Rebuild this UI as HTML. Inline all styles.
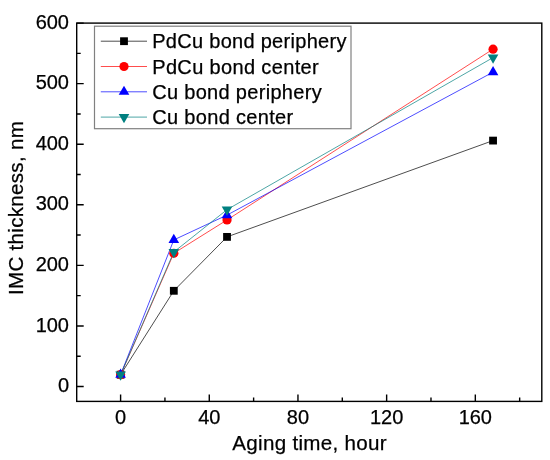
<!DOCTYPE html>
<html><head><meta charset="utf-8"><title>IMC thickness vs aging time</title>
<style>
html,body{margin:0;padding:0;background:#fff;}
svg{display:block;}
text{font-family:"Liberation Sans", Arial, sans-serif;font-size:20px;fill:#000;stroke:#000;stroke-width:0.25px;}
text.t{font-size:20.6px;}
</style></head>
<body>
<svg width="550" height="460" viewBox="0 0 550 460">
<rect x="0" y="0" width="550" height="460" fill="#fff"/>
<polyline points="120.60,374.69 173.81,290.80 227.02,236.89 493.06,140.59" fill="none" stroke="#000000" stroke-width="0.7"/>
<polyline points="120.60,374.69 173.81,253.25 227.02,219.93 493.06,49.13" fill="none" stroke="#ff0000" stroke-width="0.7"/>
<polyline points="120.60,374.69 173.81,239.92 227.02,215.09 493.06,72.14" fill="none" stroke="#0000ff" stroke-width="0.7"/>
<polyline points="120.60,374.69 173.81,252.03 227.02,209.64 493.06,57.60" fill="none" stroke="#008080" stroke-width="0.7"/>
<rect x="116.70" y="370.79" width="7.8" height="7.8" fill="#000000"/>
<rect x="169.91" y="286.90" width="7.8" height="7.8" fill="#000000"/>
<rect x="223.12" y="232.99" width="7.8" height="7.8" fill="#000000"/>
<rect x="489.16" y="136.69" width="7.8" height="7.8" fill="#000000"/>
<circle cx="120.60" cy="374.69" r="4.6" fill="#ff0000"/>
<circle cx="173.81" cy="253.25" r="4.6" fill="#ff0000"/>
<circle cx="227.02" cy="219.93" r="4.6" fill="#ff0000"/>
<circle cx="493.06" cy="49.13" r="4.6" fill="#ff0000"/>
<path d="M120.60 368.56 L125.90 377.76 L115.30 377.76Z" fill="#0000ff"/>
<path d="M173.81 233.79 L179.11 242.99 L168.51 242.99Z" fill="#0000ff"/>
<path d="M227.02 208.95 L232.32 218.15 L221.72 218.15Z" fill="#0000ff"/>
<path d="M493.06 66.01 L498.36 75.21 L487.76 75.21Z" fill="#0000ff"/>
<path d="M120.60 380.82 L125.90 371.62 L115.30 371.62Z" fill="#008080"/>
<path d="M173.81 258.17 L179.11 248.97 L168.51 248.97Z" fill="#008080"/>
<path d="M227.02 215.77 L232.32 206.57 L221.72 206.57Z" fill="#008080"/>
<path d="M493.06 63.74 L498.36 54.54 L487.76 54.54Z" fill="#008080"/>
<rect x="94.5" y="26.2" width="256.5" height="102.5" fill="#fff" stroke="#808080" stroke-width="1.2"/>
<line x1="100.8" y1="41.2" x2="147" y2="41.2" stroke="#000000" stroke-width="0.7"/>
<rect x="120.10" y="37.30" width="7.8" height="7.8" fill="#000000"/>
<text x="152.2" y="48.2" textLength="194.2" lengthAdjust="spacing">PdCu bond periphery</text>
<line x1="100.8" y1="66.5" x2="147" y2="66.5" stroke="#ff0000" stroke-width="0.7"/>
<circle cx="124.00" cy="66.50" r="4.6" fill="#ff0000"/>
<text x="152.2" y="73.6" textLength="166.5" lengthAdjust="spacing">PdCu bond center</text>
<line x1="100.8" y1="91.8" x2="147" y2="91.8" stroke="#0000ff" stroke-width="0.7"/>
<path d="M124.00 85.67 L129.30 94.87 L118.70 94.87Z" fill="#0000ff"/>
<text x="152.2" y="98.6" textLength="169.5" lengthAdjust="spacing">Cu bond periphery</text>
<line x1="100.8" y1="117.1" x2="147" y2="117.1" stroke="#008080" stroke-width="0.7"/>
<path d="M124.00 123.23 L129.30 114.03 L118.70 114.03Z" fill="#008080"/>
<text x="152.2" y="123.9" textLength="141.0" lengthAdjust="spacing">Cu bond center</text>
<rect x="76.7" y="23.1" width="465.1" height="378.3" fill="none" stroke="#000" stroke-width="1.4"/>
<path d="M120.60 401.4 V394.4 M209.28 401.4 V394.4 M297.96 401.4 V394.4 M386.64 401.4 V394.4 M475.32 401.4 V394.4 M164.94 401.4 V397.4 M253.62 401.4 V397.4 M342.30 401.4 V397.4 M430.98 401.4 V397.4 M519.66 401.4 V397.4 M76.7 386.50 H83.7 M76.7 325.93 H83.7 M76.7 265.36 H83.7 M76.7 204.79 H83.7 M76.7 144.22 H83.7 M76.7 83.65 H83.7 M76.7 23.08 H83.7 M76.7 356.21 H80.7 M76.7 295.64 H80.7 M76.7 235.07 H80.7 M76.7 174.50 H80.7 M76.7 113.94 H80.7 M76.7 53.37 H80.7" stroke="#000" stroke-width="1.4" fill="none"/>
<text x="120.60" y="424.4" text-anchor="middle">0</text>
<text x="209.28" y="424.4" text-anchor="middle">40</text>
<text x="297.96" y="424.4" text-anchor="middle">80</text>
<text x="386.64" y="424.4" text-anchor="middle">120</text>
<text x="475.32" y="424.4" text-anchor="middle">160</text>
<text x="69" y="392.20" text-anchor="end">0</text>
<text x="69" y="331.63" text-anchor="end">100</text>
<text x="69" y="271.06" text-anchor="end">200</text>
<text x="69" y="210.49" text-anchor="end">300</text>
<text x="69" y="149.92" text-anchor="end">400</text>
<text x="69" y="89.35" text-anchor="end">500</text>
<text x="69" y="28.78" text-anchor="end">600</text>
<text class="t" x="232.3" y="450" textLength="154.3" lengthAdjust="spacing">Aging time, hour</text>
<text class="t" transform="translate(23.3 295.0) rotate(-90)" textLength="173.8" lengthAdjust="spacing">IMC thickness, nm</text>
</svg>
</body></html>
